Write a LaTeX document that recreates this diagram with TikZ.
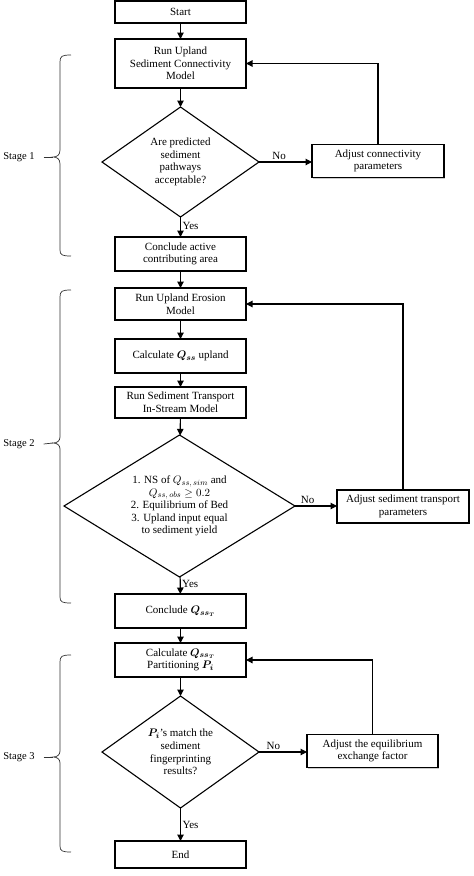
\documentclass[tikz,border=0pt]{standalone}
\usepackage{fontspec}
\setmainfont{Liberation Serif}
\usepackage{amsmath}
\usetikzlibrary{shapes.geometric,arrows.meta,shadows}
\begin{document}
\begin{tikzpicture}[x=1pt,y=-1pt,
  font=\fontsize{11}{12.6}\selectfont,
  every node/.style={inner sep=0pt, outer sep=0pt},
  procbox/.style={draw, line width=1.1pt, fill=white, align=center,
    minimum width=131pt,
    drop shadow={shadow xshift=1.3pt, shadow yshift=-1.3pt, fill=black!40, opacity=0.5}},
  decbox/.style={draw, line width=1.1pt, fill=white, align=center, diamond},
  flow/.style={line width=1.1pt, -{Triangle[length=6.5pt,width=6.5pt]}},
  brace/.style={line width=0.7pt, black!80},
  lbl/.style={font=\fontsize{11}{12.6}\selectfont},
  stg/.style={font=\fontsize{10.5}{12}\selectfont}
]
\useasboundingbox (0,0) rectangle (474,876);

% Stage 1
\node[procbox, minimum height=22pt] (start) at (180.5,12) {Start};
\node[procbox, minimum height=49pt] (run1) at (180.5,63.5) {Run Upland\\Sediment Connectivity\\Model};
\node[decbox, minimum width=157pt, minimum height=110pt, aspect=1.43] (dia1) at (180.5,162) {Are predicted\\sediment\\pathways\\acceptable?};
\node[procbox, minimum width=132pt, minimum height=33pt] (adj1) at (378,161) {Adjust connectivity\\parameters};
\node[procbox, minimum height=34pt] (conc1) at (180.5,254) {Conclude active\\contributing area};

% Stage 2
\node[procbox, minimum height=32pt] (run2) at (180.5,304) {Run Upland Erosion\\Model};
\node[procbox, minimum height=34pt] (calc1) at (180.5,356) {Calculate $\boldsymbol{Q_{ss}}$ upland};
\node[procbox, minimum height=31pt] (run3) at (180.5,402.5) {Run Sediment Transport\\In-Stream Model};
\node[decbox, minimum width=231pt, minimum height=142pt, aspect=1.63] (dia2) at (179.5,506) {1. NS of $Q_{ss,\,sim}$ and\\$Q_{ss,\,obs}\geq 0.2$\\2. Equilibrium of Bed\\3. Upland input equal\\to sediment yield};
\node[procbox, minimum width=132pt, minimum height=33pt] (adj2) at (403,506.5) {Adjust sediment transport\\parameters};
\node[procbox, minimum height=34pt] (conc2) at (180.5,611) {Conclude $\boldsymbol{Q_{ss_T}}$};

% Stage 3
\node[procbox, minimum height=34pt] (calc2) at (180.5,660) {Calculate $\boldsymbol{Q_{ss_T}}$\\Partitioning $\boldsymbol{P_i}$};
\node[decbox, minimum width=157pt, minimum height=112pt, aspect=1.4] (dia3) at (180.5,752) {$\boldsymbol{P_i}$’s match the\\sediment\\fingerprinting\\results?};
\node[procbox, minimum height=33pt] (adj3) at (372.5,751) {Adjust the equilibrium\\exchange factor};
\node[procbox, minimum height=27pt] (end) at (180.5,854.5) {End};

% main flow
\draw[flow] (start) -- (run1);
\draw[flow] (run1) -- (dia1);
\draw[flow] (dia1) -- node[lbl, right=2pt, pos=0.45] {Yes} (conc1);
\draw[flow] (conc1) -- (run2);
\draw[flow] (run2) -- (calc1);
\draw[flow] (calc1) -- (run3);
\draw[flow] (run3) -- (dia2);
\draw[flow] (dia2) -- node[lbl, right=2pt, pos=0.45] {Yes} (conc2);
\draw[flow] (conc2) -- (calc2);
\draw[flow] (calc2) -- (dia3);
\draw[flow] (dia3) -- node[lbl, right=2pt, pos=0.5] {Yes} (end);

% No branches
\draw[flow] (dia1.east) -- node[lbl, above=2pt, pos=0.38] {No} (dia1.east -| adj1.west);
\draw[flow] (dia2.east) -- node[lbl, above=2pt, pos=0.3] {No} (dia2.east -| adj2.west);
\draw[flow] (dia3.east) -- node[lbl, above=2pt, pos=0.3] {No} (dia3.east -| adj3.west);

% feedback loops
\draw[flow] (adj1.north) |- (run1.east);
\draw[flow] (adj2.north) |- (run2.east);
\draw[flow] (adj3.north) |- (calc2.east);

% braces and stage labels
\coordinate (b1t) at (71,55);
\coordinate (b1b) at (71,256);
\draw[brace] (b1t) .. controls (62,55) and (60,56) .. (60,62) -- (60,150) .. controls (60,155) and (57,157) .. (53,157)
  .. controls (57,157) and (60,159) .. (60,164) -- (60,250) .. controls (60,255) and (62,256) .. (b1b);
\node[stg] (s1) at (19,157) {Stage 1};
\draw[brace] (s1.east) ++(9,0) -- (53,157);

\coordinate (b2t) at (71,290);
\coordinate (b2b) at (71,603);
\draw[brace] (b2t) .. controls (62,290) and (60,291) .. (60,297) -- (60,437) .. controls (60,441) and (57,443) .. (53,443)
  .. controls (57,443) and (60,445) .. (60,449) -- (60,597) .. controls (60,602) and (62,603) .. (b2b);
\node[stg] (s2) at (19,444) {Stage 2};
\draw[brace] (s2.east) ++(9,0) -- (53,443);

\coordinate (b3t) at (71,655);
\coordinate (b3b) at (71,852);
\draw[brace] (b3t) .. controls (62,655) and (60,656) .. (60,662) -- (60,751) .. controls (60,755) and (57,757) .. (53,757)
  .. controls (57,757) and (60,759) .. (60,763) -- (60,846) .. controls (60,851) and (62,852) .. (b3b);
\node[stg] (s3) at (19,757) {Stage 3};
\draw[brace] (s3.east) ++(9,0) -- (53,757);
\end{tikzpicture}
\end{document}
